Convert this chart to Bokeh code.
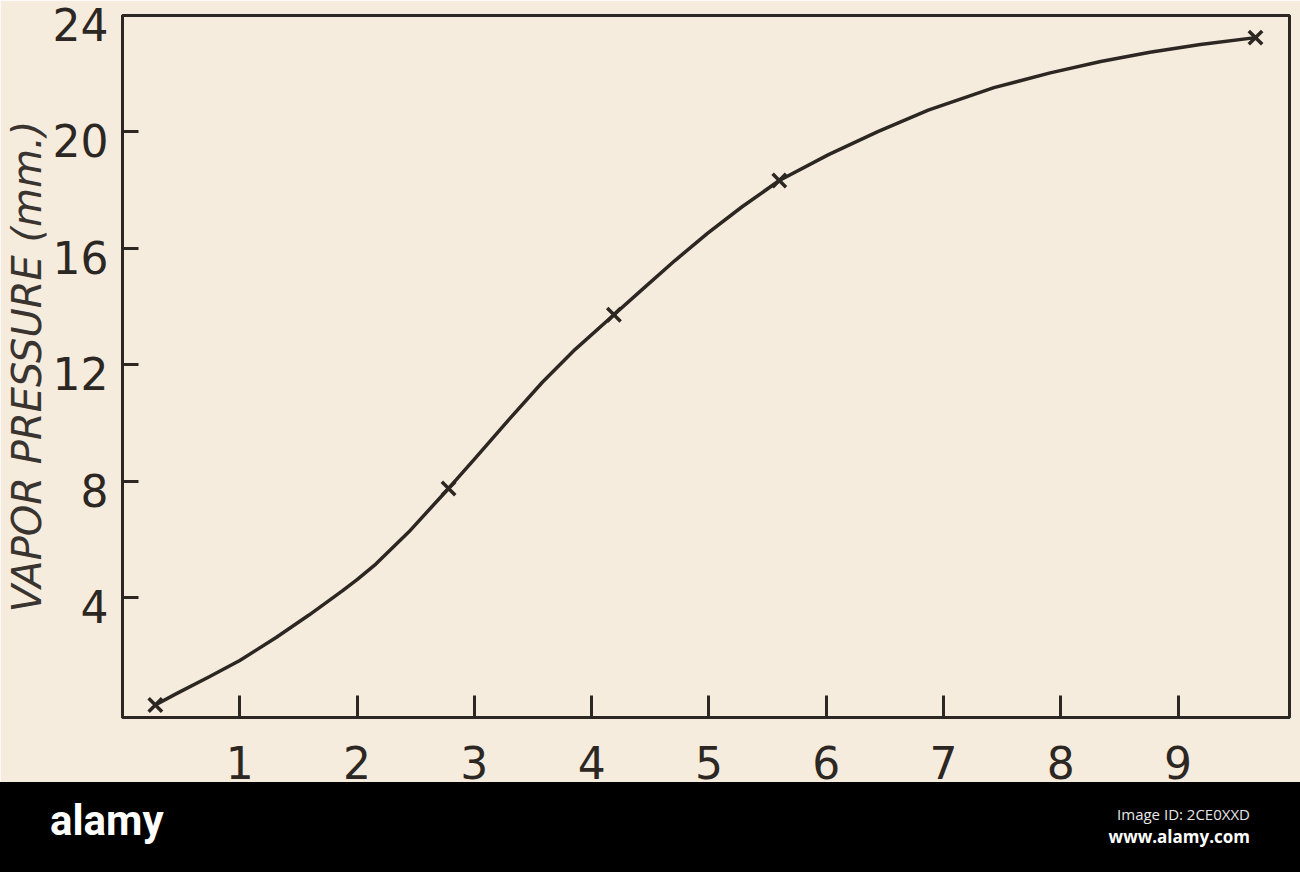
from bokeh.plotting import figure
from bokeh.layouts import column
from bokeh.models import FixedTicker, Range1d, LinearAxis, Div
from bokeh.embed import file_html
from bokeh.resources import INLINE

# ---- data ----
x_ticks = [1, 2, 3, 4, 5, 6, 7, 8, 9]
y_ticks = [4, 8, 12, 16, 20, 24]

# measured points (x markers)
mark_x = [0.28, 2.78, 4.19, 5.60, 9.66]
mark_y = [0.31, 7.75, 13.72, 18.33, 23.24]

# points
curve_x = [0.28, 0.46, 0.74, 1.00, 1.31, 1.59, 1.88, 2.00, 2.16, 2.44, 2.78,
           3.01, 3.30, 3.58, 3.86, 4.19, 4.43, 4.71, 4.99, 5.28, 5.60, 6.02,
           6.44, 6.87, 7.43, 7.91, 8.34, 8.76, 9.19, 9.66]
curve_y = [0.31, 0.70, 1.28, 1.84, 2.63, 3.40, 4.25, 4.62, 5.15, 6.25, 7.75,
           8.80, 10.14, 11.40, 12.53, 13.72, 14.58, 15.58, 16.52, 17.42, 18.33, 19.22,
           20.01, 20.75, 21.52, 22.03, 22.42, 22.74, 23.00, 23.24]

y_title = "VAPOR PRESSURE (mm.)"
brand = "alamy"
image_id = "Image ID: 2CE0XXD"
site = "www.alamy.com"

INK = "#2c2723"
PAPER = "#f6ecdd"
FONT = "DejaVu Sans"

X0, X1 = 0.0, 9.95
Y0, Y1 = -0.12, 24.0
W = 1300
LEFT, RIGHT, TOP, BOTTOM = 120, 11, 15, 87
FRAME_H = 702
BAND_TOP = 782                      # where the black band starts on the page
MAIN_H = TOP + FRAME_H + BOTTOM
OVERLAP = MAIN_H - BAND_TOP         # band is pulled up over the figure's bottom edge
BAND_H = 872 - BAND_TOP

p = figure(width=W, height=MAIN_H,
           x_range=Range1d(X0, X1), y_range=Range1d(Y0, Y1),
           output_backend="svg", toolbar_location=None,
           min_border_left=LEFT, min_border_right=RIGHT,
           min_border_top=TOP, min_border_bottom=BOTTOM)
p.background_fill_color = PAPER
p.border_fill_color = PAPER
p.outline_line_color = INK
p.outline_line_width = 3
p.grid.visible = False

xa = p.xaxis[0]
xa.ticker = FixedTicker(ticks=x_ticks)
xa.major_tick_in = 22
xa.major_tick_out = 0
xa.minor_tick_line_color = None
xa.major_tick_line_width = 3
xa.major_tick_line_color = INK
xa.axis_line_color = INK
xa.axis_line_width = 3
xa.major_label_text_font = FONT
xa.major_label_text_font_size = "44px"
xa.major_label_text_color = INK
xa.major_label_standoff = 28

# primary y axis: inside tick dashes only
ya = p.yaxis[0]
ya.ticker = FixedTicker(ticks=y_ticks)
ya.major_tick_in = 16
ya.major_tick_out = 0
ya.minor_tick_line_color = None
ya.major_tick_line_width = 3
ya.major_tick_line_color = INK
ya.axis_line_color = INK
ya.axis_line_width = 3
ya.major_label_text_font_size = "0px"
ya.major_label_standoff = 0

# the printed numbers sit a little below their dashes in the original
shift = 9 * (Y1 - Y0) / FRAME_H
p.extra_y_ranges = {"labels": Range1d(Y0 + shift, Y1 + shift)}
la = LinearAxis(y_range_name="labels", ticker=FixedTicker(ticks=y_ticks))
la.axis_line_color = None
la.major_tick_line_color = None
la.minor_tick_line_color = None
la.major_label_text_font = FONT
la.major_label_text_font_size = "44px"
la.major_label_text_color = INK
la.major_label_standoff = 8
la.axis_label = y_title
la.axis_label_text_font = FONT
la.axis_label_text_font_style = "italic"
la.axis_label_text_font_size = "40px"
la.axis_label_text_color = "#3a3430"
la.axis_label_standoff = 0
p.add_layout(la, "left")

p.line(curve_x, curve_y, line_color=INK, line_width=3.5)
p.scatter(mark_x, mark_y, marker="x", size=19, line_color=INK, line_width=3.5)

# ---- black band at the bottom ----
band_html = (
    f'<div style="position:relative;width:{W}px;height:{BAND_H}px;background:#000;'
    f'overflow:hidden;margin:0;padding:0;">'
    f'<span style="position:absolute;left:50px;top:18px;font-family:Roboto;'
    f'font-weight:bold;font-size:42px;line-height:42px;color:#fff;">{brand}</span>'
    f'<span style="position:absolute;right:50px;top:24px;font-family:\'Open Sans\';'
    f'font-size:15px;line-height:16px;color:#e6e6e6;">{image_id}</span>'
    f'<span style="position:absolute;right:50px;top:46px;font-family:\'Open Sans\';'
    f'font-weight:bold;font-size:17px;line-height:18px;color:#fff;">{site}</span>'
    f'</div>'
)
b = Div(text=band_html, width=W, height=BAND_H,
        styles={"background-color": "black", "margin": "0", "padding": "0",
                "margin-top": f"-{OVERLAP}px", "position": "relative", "z-index": "2"})

layout = column(p, b, spacing=0)
open("out.html", "w").write(file_html(layout, INLINE))
